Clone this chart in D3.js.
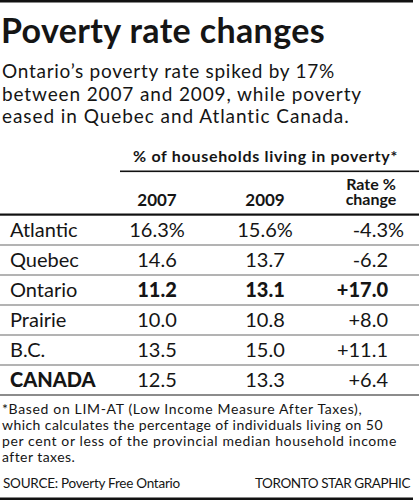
<!DOCTYPE html>
<html>
<head>
<meta charset="utf-8">
<script src="https://cdn.jsdelivr.net/npm/d3@7"></script>
<style>
  html, body { margin: 0; padding: 0; background: #fff; }
  svg { display: block; }
  text { font-family: Lato, "Noto Sans", sans-serif; fill: #151515; }
</style>
</head>
<body>
<script>
const regions = ["Atlantic", "Quebec", "Ontario", "Prairie", "B.C.", "CANADA"];
const values2007 = [16.3, 14.6, 11.2, 10.0, 13.5, 12.5];
const values2009 = [15.6, 13.7, 13.1, 10.8, 15.0, 13.3];
const rateChange = [-4.3, -6.2, 17.0, 8.0, 11.1, 6.4];
const columns = ["2007", "2009", "change"];
const boldRegions = ["Ontario"];

const title = "Poverty rate changes";
const subtitle = [
  "Ontario\u2019s poverty rate spiked by 17%",
  "between 2007 and 2009, while poverty",
  "eased in Quebec and Atlantic Canada."
];
const groupHeader = "% of households living in poverty*";
const changeHeader = ["Rate %", "change"];
const footnote = [
  "*Based on LIM-AT (Low Income Measure After Taxes),",
  "which calculates the percentage of individuals living on 50",
  "per cent or less of the provincial median household income",
  "after taxes."
];
const source = "SOURCE: Poverty Free Ontario";
const credit = "TORONTO STAR GRAPHIC";

const W = 419, H = 500;
const svg = d3.select("body").append("svg").attr("width", W).attr("height", H);

// stretch/shrink a text or tspan horizontally to a target width via letter-spacing
function fit(sel, target) {
  sel.each(function () {
    const n = this.textContent.length;
    const w = this.getComputedTextLength();
    d3.select(this).attr("letter-spacing", ((target - w) / n).toFixed(3));
  });
}

// top and bottom rules
svg.append("rect").attr("x", 0).attr("y", 0).attr("width", 413).attr("height", 2.5).attr("fill", "#111");
svg.append("rect").attr("x", 0).attr("y", 497.5).attr("width", 413).attr("height", 2.5).attr("fill", "#111");

const t = svg.append("text").attr("x", 1).attr("y", 43)
  .attr("font-size", 34).attr("font-weight", 700).text(title);
fit(t, 324);

const subWidths = [333, 360, 348];
const sub = svg.append("text").attr("font-size", 19);
sub.selectAll("tspan").data(subtitle).enter().append("tspan")
  .attr("x", 2).attr("y", (d, i) => 78 + i * 22.7).text(d => d)
  .each(function (d, i) { fit(d3.select(this), subWidths[i]); });

// group header
const gh = svg.append("text").attr("x", 133).attr("y", 162)
  .attr("font-size", 16).attr("font-weight", 700).text(groupHeader);
fit(gh, 265);
svg.append("rect").attr("x", 120).attr("y", 170.5).attr("width", W - 120).attr("height", 1.6).attr("fill", "#111");

// scales
const y = d3.scaleBand().domain(regions).range([216, 396]);
const xCenter = d3.scaleOrdinal().domain(columns).range([157, 265, 388]);

// column headers
svg.append("text").attr("x", xCenter("2007")).attr("y", 206).attr("text-anchor", "middle")
  .attr("font-size", 17).attr("font-weight", 700).text("2007");
svg.append("text").attr("x", xCenter("2009")).attr("y", 206).attr("text-anchor", "middle")
  .attr("font-size", 17).attr("font-weight", 700).text("2009");
const rc = svg.append("text").attr("text-anchor", "middle").attr("font-size", 16).attr("font-weight", 700);
rc.selectAll("tspan").data(changeHeader).enter().append("tspan")
  .attr("x", 371).attr("y", (d, i) => 189.5 + i * 15).text(d => d);

// thick rule below headers
svg.append("rect").attr("x", 0).attr("y", 213.5).attr("width", W).attr("height", 2.2).attr("fill", "#111");

// row separators
svg.selectAll("line.sep").data(regions).enter().append("line")
  .attr("class", "sep")
  .attr("x1", 0).attr("x2", W)
  .attr("y1", d => y(d) + y.bandwidth() - 1).attr("y2", d => y(d) + y.bandwidth() - 1)
  .attr("stroke", (d, i) => i === regions.length - 1 ? "#666" : "#9a9a9a")
  .attr("stroke-width", 1.6);

const rows = svg.selectAll("g.row").data(regions).enter().append("g").attr("class", "row")
  .attr("transform", d => `translate(0,${y(d) + 21})`);

rows.append("text").attr("x", 10).attr("font-size", 20)
  .attr("font-weight", d => d === "CANADA" ? 900 : 400).text(d => d);

const fmt = d3.format(".1f");
const fmtSigned = d3.format("+.1f");

rows.append("text").attr("x", xCenter("2007")).attr("text-anchor", "middle").attr("font-size", 20)
  .attr("font-weight", d => boldRegions.includes(d) ? 900 : 400)
  .text((d, i) => fmt(values2007[i]) + (i === 0 ? "%" : ""));
rows.append("text").attr("x", xCenter("2009")).attr("text-anchor", "middle").attr("font-size", 20)
  .attr("font-weight", d => boldRegions.includes(d) ? 900 : 400)
  .text((d, i) => fmt(values2009[i]) + (i === 0 ? "%" : ""));
rows.append("text").attr("x", xCenter("change")).attr("text-anchor", "end").attr("font-size", 20)
  .attr("font-weight", d => boldRegions.includes(d) ? 900 : 400)
  .text((d, i) => rateChange[i] < 0 ? "-" + fmt(-rateChange[i]) : fmtSigned(rateChange[i]));
rows.filter((d, i) => i === 0).append("text").attr("x", xCenter("change")).attr("font-size", 20).text("%");

// footnote
const fnWidths = [360, 381, 395, 73];
const fn = svg.append("text").attr("font-size", 14);
fn.selectAll("tspan").data(footnote).enter().append("tspan")
  .attr("x", 2).attr("y", (d, i) => 414 + i * 15.9).text(d => d)
  .each(function (d, i) { fit(d3.select(this), fnWidths[i]); });

const src = svg.append("text").attr("x", 3).attr("y", 488).attr("font-size", 13.5).text(source);
fit(src, 177);
const cr = svg.append("text").attr("x", 255).attr("y", 488).attr("font-size", 13.5).text(credit);
fit(cr, 155);
</script>
</body>
</html>
